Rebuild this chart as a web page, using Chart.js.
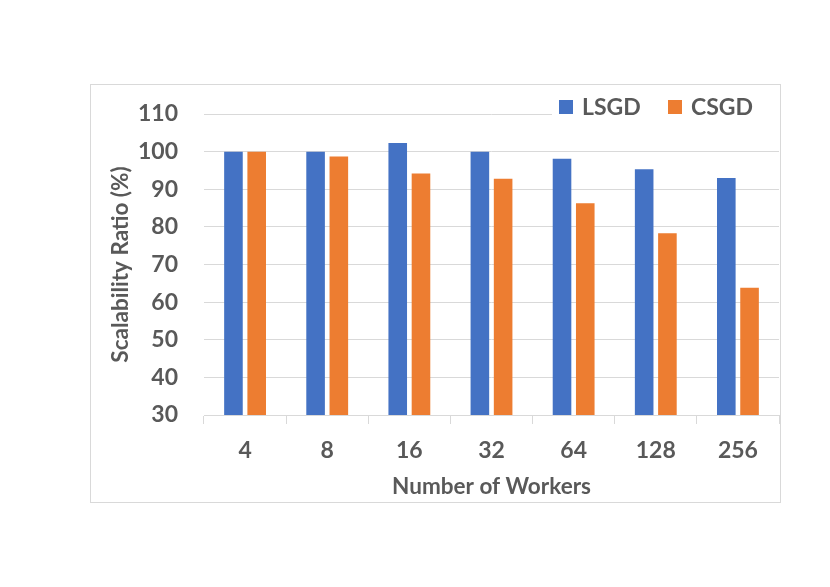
<!DOCTYPE html>
<html>
<head>
<meta charset="utf-8">
<script src="https://cdn.jsdelivr.net/npm/chart.js@4"></script>
<style>
html,body{margin:0;padding:0;background:#fff;}
#wrap{width:830px;height:587px;position:relative;}
</style>
</head>
<body>
<div id="wrap"><canvas id="c" width="830" height="587"></canvas></div>
<script>
const categories = ["4", "8", "16", "32", "64", "128", "256"];
const lsgd = [100, 100, 102.3, 100, 98.1, 95.3, 93.0];
const csgd = [100, 98.7, 94.2, 92.8, 86.3, 78.3, 63.8];
const seriesNames = ["LSGD", "CSGD"];
const yTicks = [30, 40, 50, 60, 70, 80, 90, 100, 110];

const FONT = "Lato, 'Noto Sans', sans-serif";
const TXT = "#595959";
const GRID = "#D9D9D9";

const frame = {
  id: "frame",
  beforeDraw(chart) {
    const ctx = chart.ctx;
    ctx.save();
    ctx.fillStyle = "#fff";
    ctx.fillRect(0, 0, chart.width, chart.height);
    ctx.strokeStyle = GRID;
    ctx.lineWidth = 1;
    ctx.strokeRect(90.5, 84.5, 690, 418);
    ctx.restore();
  }
};

const customLegend = {
  id: "customLegend",
  afterDraw(chart) {
    const ctx = chart.ctx;
    ctx.save();
    ctx.font = "bold 23px " + FONT;
    ctx.textBaseline = "middle";
    const items = chart.data.datasets;
    const starts = [559, 668];
    const cy = 107;
    ctx.fillStyle = "#fff";
    ctx.fillRect(552, 96, 228, 20);
    items.forEach((ds, i) => {
      const x = starts[i];
      ctx.fillStyle = ds.backgroundColor;
      ctx.fillRect(x, cy - 7, 14, 14);
      ctx.fillStyle = TXT;
      ctx.fillText(ds.label, x + 23, cy + 1);
    });
    ctx.restore();
  }
};

new Chart(document.getElementById("c"), {
  type: "bar",
  data: {
    labels: categories,
    datasets: [
      { label: seriesNames[0], data: lsgd, backgroundColor: "#4472C4", borderWidth: 0 },
      { label: seriesNames[1], data: csgd, backgroundColor: "#ED7D31", borderWidth: 0 }
    ]
  },
  options: {
    responsive: false,
    animation: false,
    devicePixelRatio: 1,
    categoryPercentage: 0.566,
    barPercentage: 0.8,
    layout: { padding: { left: 90, right: 51, top: 114, bottom: 84 } },
    plugins: { legend: { display: false }, tooltip: { enabled: false } },
    scales: {
      x: {
        offset: true,
        grid: { display: true, drawOnChartArea: false, drawTicks: true, tickLength: 9, color: GRID, offset: true },
        border: { display: true, color: GRID, width: 1 },
        ticks: { color: TXT, font: { family: FONT, size: 23, weight: "bold" }, padding: 13, maxRotation: 0 },
        title: { display: true, text: "Number of Workers", color: TXT, font: { family: FONT, size: 22.5, weight: "bold" }, padding: { top: 0, bottom: 2.5 } },
        afterFit(scale) { scale.height = 88; }
      },
      y: {
        min: 30, max: 110,
        afterBuildTicks(scale) { scale.ticks = yTicks.map(v => ({ value: v })); },
        grid: { color: GRID, drawTicks: false, lineWidth: 1 },
        border: { display: false },
        ticks: { color: TXT, font: { family: FONT, size: 23, weight: "bold" }, padding: 26 },
        title: { display: true, text: "Scalability Ratio (%)", color: TXT, font: { family: FONT, size: 22.5, weight: "bold" }, padding: { top: 17.5, bottom: 0 } },
        afterFit(scale) { scale.width = 114; }
      }
    }
  },
  plugins: [frame, customLegend]
});
</script>
</body>
</html>
